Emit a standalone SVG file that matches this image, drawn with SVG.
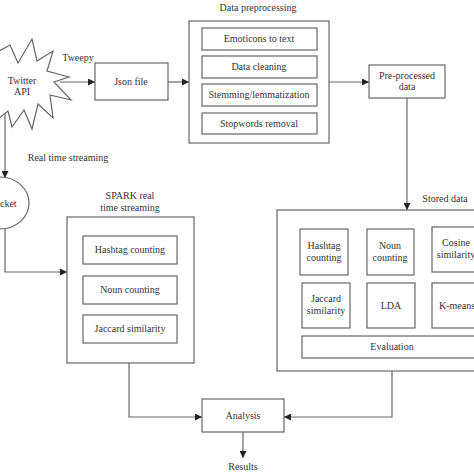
<svg xmlns="http://www.w3.org/2000/svg" width="474" height="474" viewBox="0 0 474 474">
<style>
.b{fill:#fff;stroke:#666;stroke-width:1.2}
.t{font-family:"Liberation Serif","Times New Roman",serif;font-size:10px;fill:#333;text-anchor:middle}
.c{fill:none;stroke:#666;stroke-width:1.2}
</style>
<defs>
<marker id="a" viewBox="0 0 10 10" refX="10" refY="5" markerWidth="7" markerHeight="7" markerUnits="userSpaceOnUse" orient="auto">
<path d="M0,0L10,5L0,10z" fill="#222"/>
</marker>
</defs>
<rect width="474" height="474" fill="#fff"/>
<g id="connectors">
<path class="c" d="M60,82H95" marker-end="url(#a)"/>
<path class="c" d="M168,82H189" marker-end="url(#a)"/>
<path class="c" d="M329,82H369" marker-end="url(#a)"/>
<path class="c" d="M407,98V210" marker-end="url(#a)"/>
<path class="c" d="M5,113V178" marker-end="url(#a)"/>
<path class="c" d="M5,229V272H67" marker-end="url(#a)"/>
<path class="c" d="M129,363V417H202" marker-end="url(#a)"/>
<path class="c" d="M392,371V417H284" marker-end="url(#a)"/>
<path class="c" d="M243,432V458" marker-end="url(#a)"/>
<path class="c" d="M326,328V336M392,328V336M457,328V336"/>
<text class="t" x="78" y="61">Tweepy</text>
<text class="t" x="68" y="161">Real time streaming</text>
</g>
<g id="twitter">
<path class="b" d="M-10,56L10,45L18,63L32,39L37,61L53,51L47,71L69,77L54,82L71,100L50,95L53,118L38,104L32,129L24,110L12,127L8,111L-5,121Z"/>
<text class="t" x="22" y="84">Twitter</text>
<text class="t" x="22" y="95">API</text>
</g>
<g id="json">
<rect class="b" x="95" y="63" width="73" height="37"/>
<text class="t" x="131" y="85">Json file</text>
</g>
<g id="preprocessing">
<text class="t" x="258" y="11">Data preprocessing</text>
<rect class="b" x="189" y="21" width="140" height="122"/>
<rect class="b" x="202" y="28" width="115" height="22"/>
<text class="t" x="259" y="42">Emoticons to text</text>
<rect class="b" x="202" y="56" width="115" height="22"/>
<text class="t" x="259" y="70">Data cleaning</text>
<rect class="b" x="202" y="84" width="115" height="22"/>
<text class="t" x="259" y="98">Stemming/lemmatization</text>
<rect class="b" x="202" y="113" width="115" height="21"/>
<text class="t" x="259" y="127">Stopwords removal</text>
</g>
<g id="preprocessed">
<rect class="b" x="369" y="65" width="76" height="33"/>
<text class="t" x="407" y="79">Pre-processed</text>
<text class="t" x="407" y="90">data</text>
</g>
<g id="socket">
<ellipse class="b" cx="0" cy="203" rx="29" ry="26"/>
<text class="t" x="3" y="207">Socket</text>
</g>
<g id="spark">
<text class="t" x="130" y="199">SPARK real</text>
<text class="t" x="130" y="211">time streaming</text>
<rect class="b" x="67" y="217" width="127" height="146"/>
<rect class="b" x="83" y="236" width="94" height="28"/>
<text class="t" x="130" y="253">Hashtag counting</text>
<rect class="b" x="83" y="276" width="94" height="28"/>
<text class="t" x="130" y="293">Noun counting</text>
<rect class="b" x="83" y="315" width="94" height="28"/>
<text class="t" x="130" y="332">Jaccard similarity</text>
</g>
<g id="stored">
<text class="t" x="445" y="202">Stored data</text>
<rect class="b" x="277" y="210" width="210" height="161"/>
<rect class="b" x="300" y="229" width="48" height="46"/>
<text class="t" x="324" y="249">Hashtag</text>
<text class="t" x="324" y="261">counting</text>
<rect class="b" x="367" y="229" width="47" height="46"/>
<text class="t" x="390" y="249">Noun</text>
<text class="t" x="390" y="261">counting</text>
<rect class="b" x="432" y="227" width="50" height="45"/>
<text class="t" x="456" y="246">Cosine</text>
<text class="t" x="456" y="258">similarity</text>
<rect class="b" x="302" y="283" width="48" height="45"/>
<text class="t" x="326" y="302">Jaccard</text>
<text class="t" x="326" y="314">similarity</text>
<rect class="b" x="367" y="283" width="48" height="45"/>
<text class="t" x="391" y="309">LDA</text>
<rect class="b" x="432" y="283" width="50" height="45"/>
<text class="t" x="457" y="309">K-means</text>
<rect class="b" x="302" y="336" width="180" height="22"/>
<text class="t" x="392" y="350">Evaluation</text>
</g>
<g id="analysis">
<rect class="b" x="202" y="399" width="82" height="33"/>
<text class="t" x="243" y="419">Analysis</text>
</g>
<g id="results">
<text class="t" x="243" y="470">Results</text>
</g>
</svg>
